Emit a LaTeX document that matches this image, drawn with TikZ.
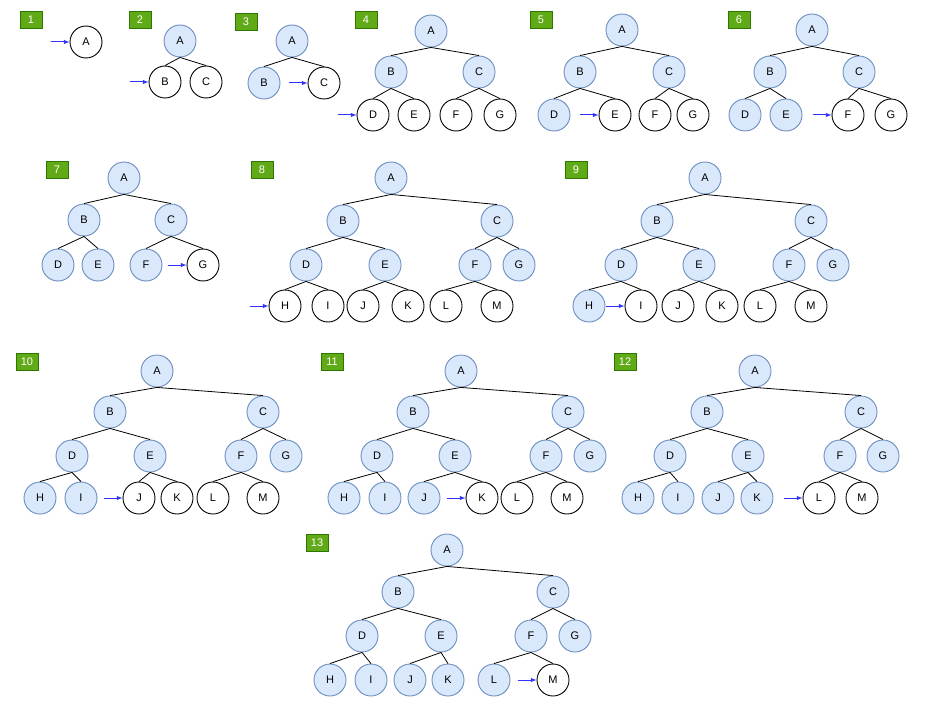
\documentclass[tikz,border=0pt]{standalone}
\usepackage{fontspec}
\setmainfont{Liberation Sans}
\usetikzlibrary{calc}
\definecolor{vfill}{HTML}{DAE8FC}
\definecolor{vdraw}{HTML}{6C8EBF}
\definecolor{gfill}{HTML}{60A917}
\definecolor{gdraw}{HTML}{2D7600}
\definecolor{arrc}{HTML}{3333FF}
\tikzset{
 base/.style={circle,minimum size=32pt,inner sep=0pt,line width=0.9pt,font=\fontsize{11}{13}\selectfont},
 vis/.style={base,draw=vdraw,fill=vfill},
 unv/.style={base,draw=black,fill=white},
 lbl/.style={draw=gdraw,fill=gfill,text=white,minimum width=22pt,minimum height=17pt,inner sep=0pt,line width=0.8pt,font=\fontsize{11}{13}\selectfont},
 edge/.style={line width=0.8pt},
 arr/.style={draw=arrc,line width=1pt,-latex}
}
% #1 id, #2 current letter, #3 current index, #4 total count, #5 label pos, #6 list name/x/y
\newcommand\drawtree[6]{%
 \node[lbl] (L#1) at (#5) {#1};
 \foreach \nm/\x/\y [count=\i] in {#6}{%
  \ifnum\i<#3\relax\def\st{vis}\else\def\st{unv}\fi
  \node[\st] (t#1\nm) at (\x,\y) {\nm};
 }
 \foreach \c/\p/\k in {B/A/2,C/A/3,D/B/4,E/B/5,F/C/6,G/C/7,H/D/8,I/D/9,J/E/10,K/E/11,L/F/12,M/F/13}{%
  \ifnum\k>#4\relax\else\draw[edge] (t#1\p.south) -- (t#1\c.north);\fi
 }
 \coordinate (ar#1) at ($(t#1#2.west)+(-19,0)$);
 \draw[arr] (ar#1) -- (t#1#2.west);
}
\begin{document}
\begin{tikzpicture}[x=1pt,y=-1pt]
\useasboundingbox[fill=white] (0,0) rectangle (926,706);
\drawtree{1}{A}{1}{1}{31,20}{A/86/42}
\drawtree{2}{B}{2}{3}{140,20}{A/180/41,B/165/82,C/206/82}
\drawtree{3}{C}{3}{3}{246,22}{A/292/41,B/264/83,C/324/83}
\drawtree{4}{D}{4}{7}{366,20}{A/431/31,B/391/72,C/479/72,D/373/115,E/414/115,F/456/115,G/500/115}
\drawtree{5}{E}{5}{7}{541,20}{A/622/30,B/580/72,C/669/72,D/554/115,E/615/115,F/655/115,G/693/115}
\drawtree{6}{F}{6}{7}{739,20}{A/812/30,B/770/72,C/859/72,D/745/115,E/786/115,F/848/115,G/891/115}
\drawtree{7}{G}{7}{7}{57,170}{A/124/178,B/84/220,C/171/220,D/58/265,E/98/265,F/146/265,G/203/265}
\drawtree{8}{H}{8}{13}{262,170}{A/391/178,B/343/221,C/497/221,D/306/265,E/385/265,F/475/265,G/519/265,H/285/306,I/328/306,J/363/306,K/408/306,L/446/306,M/497/306}
\drawtree{9}{I}{9}{13}{576,170}{A/705/178,B/657/221,C/811/221,D/621/265,E/699/265,F/789/265,G/833/265,H/589/306,I/641/306,J/678/306,K/722/306,L/760/306,M/811/306}
\drawtree{10}{J}{10}{13}{27,362}{A/157/371,B/110/412,C/263/412,D/72/456,E/150/456,F/241/456,G/286/456,H/40/498,I/81/498,J/139/498,K/177/498,L/213/498,M/263/498}
\drawtree{11}{K}{11}{13}{332,362}{A/461/371,B/413/412,C/568/412,D/377/456,E/455/456,F/546/456,G/590/456,H/344/498,I/385/498,J/424/498,K/482/498,L/517/498,M/567/498}
\drawtree{12}{L}{12}{13}{625,362}{A/755/371,B/707/412,C/861/412,D/670/456,E/748/456,F/840/456,G/883/456,H/638/498,I/678/498,J/718/498,K/757/498,L/819/498,M/862/498}
\drawtree{13}{M}{13}{13}{317,543}{A/447/550,B/398/592,C/553/592,D/362/636,E/441/636,F/531/636,G/575/636,H/330/680,I/371/680,J/410/680,K/448/680,L/494/680,M/553/680}
\end{tikzpicture}
\end{document}
